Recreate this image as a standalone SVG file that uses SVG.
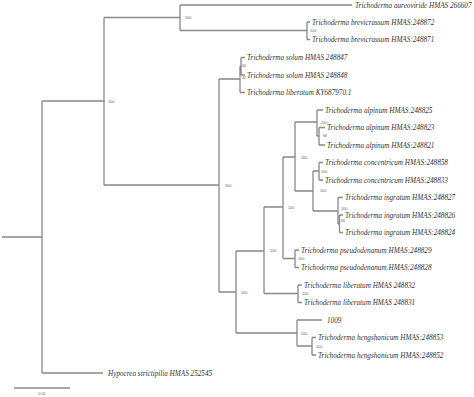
<svg xmlns="http://www.w3.org/2000/svg" width="474" height="397" viewBox="0 0 474 397">
<style>
.e{fill:none;stroke:#888;stroke-width:1.3}
.t{font-family:"Liberation Serif",serif;font-style:italic;font-size:7.2px;fill:#333}
.b{font-family:"Liberation Sans",sans-serif;font-size:3.8px;fill:#666}
</style>
<rect width="474" height="397" fill="#fff"/>
<g id="connectors" class="e">
<path d="M2,237H42M42,101V373M42,101H104M42,373H103"/>
<path d="M104,17.5V185M104,17.5H180M180,5V30.5M180,5H352M180,30.5H307M307,22V39.5M307,22H310M307,39.5H310"/>
<path d="M104,185H219M219,79V292M219,79H240M240,66V92.5M240,66H241M241,57.5V75M241,57.5H245M241,75H245M240,92.5H245"/>
<path d="M219,292H236M236,251V333M236,251H264M264,207V293.5M264,207H283M283,157V258.5M283,157H295M295,122V191"/>
<path d="M295,122H317M317,110V136M317,110H323M317,136H319M319,127.5V145M319,127.5H325M319,145H325"/>
<path d="M295,191H313M313,171V211M313,171H319M319,162.5V180M319,162.5H323M319,180H323M313,211H338M338,197.5V224M338,197.5H343M338,224H339.5M339.5,215V232.5M339.5,215H343M339.5,232.5H343"/>
<path d="M283,258.5H295M295,250V267.5M295,250H299M295,267.5H299"/>
<path d="M264,293.5H298M298,285V302.5M298,285H302M298,302.5H302"/>
<path d="M236,333H297M297,320V346M297,320H322M297,346H312M312,337.5V355M312,337.5H316M312,355H316"/>
<path d="M14,388H70"/>
</g>
<g id="n-A"><text class="b" x="108" y="103">100</text></g>
<g id="n-B"><text class="b" x="185" y="19">100</text></g>
<g id="n-D"><text class="b" x="310" y="32">100</text></g>
<g id="n-C"><text class="b" x="225" y="187">100</text></g>
<g id="n-E"><text class="b" x="242" y="67">66</text><text class="b" x="242" y="79">42</text></g>
<g id="n-F"><text class="b" x="241" y="294">100</text></g>
<g id="n-G"><text class="b" x="270" y="252">100</text></g>
<g id="n-I"><text class="b" x="288" y="209">100</text></g>
<g id="n-J"><text class="b" x="301" y="159">100</text></g>
<g id="n-L"><text class="b" x="321" y="124">100</text><text class="b" x="323" y="137">66</text></g>
<g id="n-K"><text class="b" x="320" y="192">100</text></g>
<g id="n-M"><text class="b" x="321" y="173">100</text></g>
<g id="n-N"><text class="b" x="341" y="210">100</text><text class="b" x="341" y="222">66</text></g>
<g id="n-P"><text class="b" x="298" y="260">100</text></g>
<g id="n-Q"><text class="b" x="302" y="295">100</text></g>
<g id="n-H"><text class="b" x="301" y="335">100</text></g>
<g id="n-R"><text class="b" x="316" y="348">100</text></g>
<g id="leaf-aureoviride"><text class="t" x="355" y="7.5">Trichoderma aureoviride HMAS 266607</text></g>
<g id="leaf-brev-248872"><text class="t" x="312" y="24.5">Trichoderma brevicrassum HMAS:248872</text></g>
<g id="leaf-brev-248871"><text class="t" x="312" y="42">Trichoderma brevicrassum HMAS:248871</text></g>
<g id="leaf-solum-248847"><text class="t" x="247" y="60">Trichoderma solum HMAS 248847</text></g>
<g id="leaf-solum-248848"><text class="t" x="247" y="77.5">Trichoderma solum HMAS 248848</text></g>
<g id="leaf-lib-KY"><text class="t" x="247" y="95">Trichoderma liberatum KY687970.1</text></g>
<g id="leaf-alp-248825"><text class="t" x="325" y="112.5">Trichoderma alpinum HMAS:248825</text></g>
<g id="leaf-alp-248823"><text class="t" x="327" y="130">Trichoderma alpinum HMAS:248823</text></g>
<g id="leaf-alp-248821"><text class="t" x="327" y="147.5">Trichoderma alpinum HMAS:248821</text></g>
<g id="leaf-con-248858"><text class="t" x="325" y="165">Trichoderma concentricum HMAS:248858</text></g>
<g id="leaf-con-248833"><text class="t" x="325" y="182.5">Trichoderma concentricum HMAS:248833</text></g>
<g id="leaf-ing-248827"><text class="t" x="345" y="200">Trichoderma ingratum HMAS:248827</text></g>
<g id="leaf-ing-248826"><text class="t" x="345" y="217.5">Trichoderma ingratum HMAS:248826</text></g>
<g id="leaf-ing-248824"><text class="t" x="345" y="235">Trichoderma ingratum HMAS:248824</text></g>
<g id="leaf-pse-248829"><text class="t" x="301" y="252.5">Trichoderma pseudodenanum HMAS:248829</text></g>
<g id="leaf-pse-248828"><text class="t" x="301" y="270">Trichoderma pseudodenanum HMAS:248828</text></g>
<g id="leaf-lib-248832"><text class="t" x="304" y="287.5">Trichoderma liberatum HMAS 248832</text></g>
<g id="leaf-lib-248831"><text class="t" x="304" y="305">Trichoderma liberatum HMAS 248831</text></g>
<g id="leaf-1009"><text class="t" x="327" y="322.5">1009</text></g>
<g id="leaf-hen-248853"><text class="t" x="318" y="340">Trichoderma hengshanicum HMAS:248853</text></g>
<g id="leaf-hen-248852"><text class="t" x="318" y="357.5">Trichoderma hengshanicum HMAS:248852</text></g>
<g id="leaf-hypocrea"><text class="t" x="108" y="375.5">Hypocrea strictipilia HMAS 252545</text></g>
<g id="scale"><text class="b" x="42" y="395" text-anchor="middle">0.02</text></g>
</svg>
